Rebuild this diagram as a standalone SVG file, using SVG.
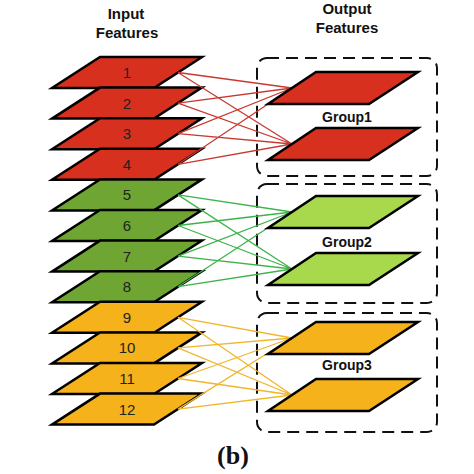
<svg xmlns="http://www.w3.org/2000/svg" width="474" height="474" viewBox="0 0 474 474">
<style>
.lay{stroke:#000;stroke-width:2.5;stroke-linejoin:miter}
.red{fill:#d8301f}
.gin{fill:#6ea533}
.gout{fill:#a8d84b}
.org{fill:#f6b21b}
.num{font-family:"Liberation Sans",Arial,sans-serif;font-size:15px;fill:#222;text-anchor:middle}
.title{font-family:"Liberation Sans",Arial,sans-serif;font-size:15px;font-weight:bold;fill:#111;text-anchor:middle}
.grp{font-family:"Liberation Sans",Arial,sans-serif;font-size:14px;font-weight:bold;fill:#111;text-anchor:middle}
.box{fill:none;stroke:#111;stroke-width:2;stroke-dasharray:12 7}
.cr{stroke:#c83a30;stroke-width:1.3;fill:none}
.cg{stroke:#3db34a;stroke-width:1.3;fill:none}
.co{stroke:#f0b62c;stroke-width:1.3;fill:none}
</style>
<rect width="474" height="474" fill="#fff"/>
<g id="titles">
<text class="title" x="126" y="19">Input</text>
<text class="title" x="127" y="38">Features</text>
<text class="title" x="347" y="14">Output</text>
<text class="title" x="347" y="33">Features</text>
</g>
<g id="group-boxes">
<rect id="box1" class="box" x="257" y="58" width="180" height="118" rx="10"/>
<rect id="box2" class="box" x="257" y="184" width="180" height="119" rx="10"/>
<rect id="box3" class="box" x="257" y="313" width="180" height="119" rx="10"/>
</g>
<g id="inputs">
<g id="in1"><polygon class="lay red" points="100,57 202,57 154,88 52,88"/><text class="num" x="127" y="78">1</text></g>
<g id="in2"><polygon class="lay red" points="100,87.6 202,87.6 154,118.6 52,118.6"/><text class="num" x="127" y="108.6">2</text></g>
<g id="in3"><polygon class="lay red" points="100,118.2 202,118.2 154,149.2 52,149.2"/><text class="num" x="127" y="139.2">3</text></g>
<g id="in4"><polygon class="lay red" points="100,148.8 202,148.8 154,179.8 52,179.8"/><text class="num" x="127" y="169.8">4</text></g>
<g id="in5"><polygon class="lay gin" points="100,179.4 202,179.4 154,210.4 52,210.4"/><text class="num" x="127" y="200.4">5</text></g>
<g id="in6"><polygon class="lay gin" points="100,210 202,210 154,241 52,241"/><text class="num" x="127" y="231">6</text></g>
<g id="in7"><polygon class="lay gin" points="100,240.6 202,240.6 154,271.6 52,271.6"/><text class="num" x="127" y="261.6">7</text></g>
<g id="in8"><polygon class="lay gin" points="100,271.2 202,271.2 154,302.2 52,302.2"/><text class="num" x="127" y="292.2">8</text></g>
<g id="in9"><polygon class="lay org" points="100,301.8 202,301.8 154,332.8 52,332.8"/><text class="num" x="127" y="322.8">9</text></g>
<g id="in10"><polygon class="lay org" points="100,332.4 202,332.4 154,363.4 52,363.4"/><text class="num" x="127" y="353.4">10</text></g>
<g id="in11"><polygon class="lay org" points="100,363 202,363 154,394 52,394"/><text class="num" x="127" y="384">11</text></g>
<g id="in12"><polygon class="lay org" points="100,393.6 202,393.6 154,424.6 52,424.6"/><text class="num" x="127" y="414.6">12</text></g>
</g>
<g id="connectors">
<path class="cr" d="M178,72.5L292,88M178,72.5L292,144M178,103.1L292,88M178,103.1L292,144M178,133.7L292,88M178,133.7L292,144M178,164.3L292,88M178,164.3L292,144"/>
<path class="cg" d="M178,194.9L292,212M178,194.9L292,269M178,225.5L292,212M178,225.5L292,269M178,256.1L292,212M178,256.1L292,269M178,286.7L292,212M178,286.7L292,269"/>
<path class="co" d="M178,317.3L292,338M178,317.3L292,395M178,347.9L292,338M178,347.9L292,395M178,378.5L292,338M178,378.5L292,395M178,409.1L292,338M178,409.1L292,395"/>
</g>
<g id="outputs">
<g id="out1a"><polygon class="lay red" points="316,72 418,72 369,104 268,104"/></g>
<g id="out1b"><polygon class="lay red" points="316,128 418,128 369,160 268,160"/></g>
<g id="out2a"><polygon class="lay gout" points="316,196 418,196 369,228 268,228"/></g>
<g id="out2b"><polygon class="lay gout" points="316,253 418,253 369,285 268,285"/></g>
<g id="out3a"><polygon class="lay org" points="316,322 418,322 369,354 268,354"/></g>
<g id="out3b"><polygon class="lay org" points="316,379 418,379 369,411 268,411"/></g>
</g>
<g id="group-labels">
<text class="grp" x="347" y="122">Group1</text>
<text class="grp" x="347" y="247">Group2</text>
<text class="grp" x="347" y="370">Group3</text>
</g>
<text x="233" y="464" font-family="'Liberation Serif','Times New Roman',serif" font-size="26" font-weight="bold" text-anchor="middle" fill="#111">(b)</text>
</svg>
